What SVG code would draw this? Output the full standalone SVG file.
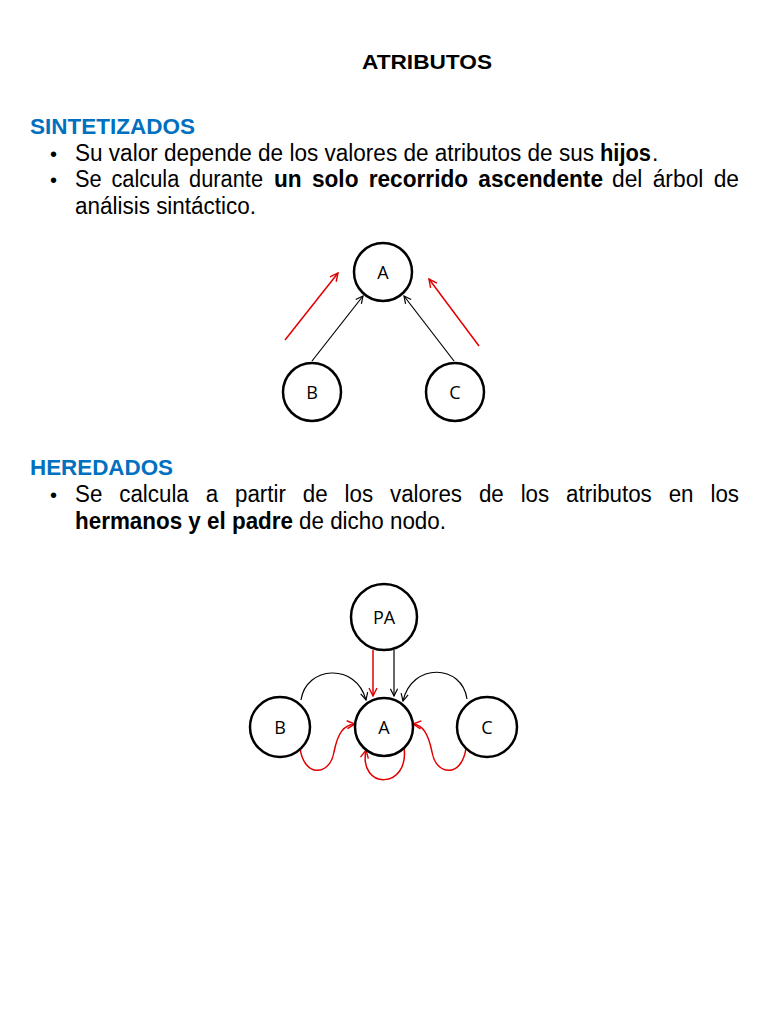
<svg xmlns="http://www.w3.org/2000/svg" width="768" height="1024" viewBox="0 0 768 1024">
<defs>
<style>
.t{font-family:"Liberation Sans",Arial,sans-serif;font-size:23px;fill:#000}
.h{font-family:"Liberation Sans",Arial,sans-serif;font-size:22px;font-weight:bold;fill:#0070C0}
.b{font-weight:bold}
.node{fill:#fff;stroke:#000;stroke-width:2.5}
.lbl{font-family:"Open Sans","Liberation Sans",sans-serif;font-size:18px;fill:#000;text-anchor:middle}
.ck{fill:none;stroke:#000;stroke-width:1.2}
.cr{fill:none;stroke:#e00000;stroke-width:1.5}
</style>
<marker id="ak" viewBox="0 0 10 10" refX="9" refY="5" markerWidth="9" markerHeight="9" markerUnits="userSpaceOnUse" orient="auto"><path d="M1,1 L9,5 L1,9" fill="none" stroke="#000" stroke-width="1.3"/></marker>
<marker id="ar" viewBox="0 0 10 10" refX="9" refY="5" markerWidth="10" markerHeight="10" markerUnits="userSpaceOnUse" orient="auto"><path d="M1,1 L9,5 L1,9" fill="none" stroke="#e00000" stroke-width="1.4"/></marker>
</defs>
<rect width="768" height="1024" fill="#fff"/>
<g id="text">
<text x="362" y="69" class="t b" style="font-size:21px" textLength="130" lengthAdjust="spacingAndGlyphs">ATRIBUTOS</text>
<text x="30" y="134" class="h" textLength="165" lengthAdjust="spacingAndGlyphs">SINTETIZADOS</text>
<text x="50" y="161" class="t" style="font-size:20px">•</text>
<text x="75" y="161" class="t" textLength="519" lengthAdjust="spacingAndGlyphs">Su valor depende de los valores de atributos de sus</text>
<text x="600" y="161" class="t b" textLength="51" lengthAdjust="spacingAndGlyphs">hijos</text>
<text x="652" y="161" class="t">.</text>
<text x="50" y="187" class="t" style="font-size:20px">•</text>
<text x="75" y="187" class="t" word-spacing="4" textLength="188" lengthAdjust="spacingAndGlyphs">Se calcula durante</text>
<text x="274" y="187" class="t b" word-spacing="4" textLength="329" lengthAdjust="spacingAndGlyphs">un solo recorrido ascendente</text>
<text x="612" y="187" class="t" word-spacing="4" textLength="127" lengthAdjust="spacingAndGlyphs">del árbol de</text>
<text x="75" y="214" class="t" textLength="181" lengthAdjust="spacingAndGlyphs">análisis sintáctico.</text>
<text x="30" y="475" class="h" textLength="143" lengthAdjust="spacingAndGlyphs">HEREDADOS</text>
<text x="50" y="502" class="t" style="font-size:20px">•</text>
<text x="75" y="502" class="t" word-spacing="11" textLength="664" lengthAdjust="spacingAndGlyphs">Se calcula a partir de los valores de los atributos en los</text>
<text x="75" y="529" class="t b" textLength="218" lengthAdjust="spacingAndGlyphs">hermanos y el padre</text>
<text x="299" y="529" class="t" textLength="147" lengthAdjust="spacingAndGlyphs">de dicho nodo.</text>
</g>
<g id="connectors">
<line class="ck" x1="312" y1="361" x2="363" y2="296" marker-end="url(#ak)"/>
<line class="ck" x1="454" y1="361" x2="404" y2="296" marker-end="url(#ak)"/>
<line class="cr" x1="285" y1="340" x2="338" y2="273" marker-end="url(#ar)"/>
<line class="cr" x1="479" y1="346" x2="429" y2="279" marker-end="url(#ar)"/>
<line class="cr" x1="373" y1="650" x2="373" y2="696" marker-end="url(#ar)"/>
<line class="ck" x1="394" y1="650" x2="394" y2="696" marker-end="url(#ak)"/>
<path class="ck" d="M301,700 C306,666 356,662 366,700" marker-end="url(#ak)"/>
<path class="ck" d="M467,699 C462,664 412,662 403,701" marker-end="url(#ak)"/>
<path class="cr" d="M300,748 C304,778 330,776 334,752 C338,732 344,725 355,724" marker-end="url(#ar)"/>
<path class="cr" d="M466,748 C462,778 436,776 432,752 C428,732 422,725 413,724" marker-end="url(#ar)"/>
<path class="cr" d="M404,747 C410,790 358,790 366,750" marker-end="url(#ar)"/>
</g>
<g id="node-A1"><circle class="node" cx="383" cy="272" r="29"/><text class="lbl" x="383" y="279">A</text></g>
<g id="node-B1"><circle class="node" cx="312" cy="392" r="29"/><text class="lbl" x="312" y="399">B</text></g>
<g id="node-C1"><circle class="node" cx="455" cy="392" r="29"/><text class="lbl" x="455" y="399">C</text></g>
<g id="node-PA"><circle class="node" cx="384" cy="617" r="33"/><text class="lbl" x="384" y="624">PA</text></g>
<g id="node-A2"><circle class="node" cx="384" cy="727" r="29"/><text class="lbl" x="384" y="734">A</text></g>
<g id="node-B2"><circle class="node" cx="280" cy="727" r="30"/><text class="lbl" x="280" y="734">B</text></g>
<g id="node-C2"><circle class="node" cx="487" cy="727" r="30"/><text class="lbl" x="487" y="734">C</text></g>
</svg>
